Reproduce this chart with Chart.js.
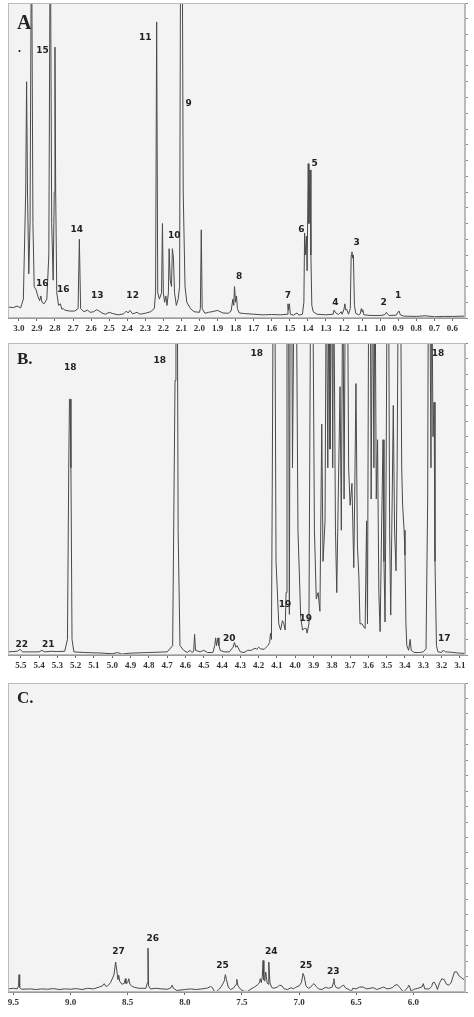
<!DOCTYPE html>
<html>
<head>
<meta charset="utf-8">
<script src="https://cdn.jsdelivr.net/npm/chart.js@4.4.1/dist/chart.umd.min.js"></script>
<style>
  body { margin: 0; background: #fff; }
  .panel { position: absolute; left: 0; width: 474px; }
  .tag { position: absolute; font-family: "Liberation Serif", serif; font-weight: bold; color: #222; }
</style>
</head>
<body>
<div class="panel" style="top:0;height:340px"><canvas id="chartA"></canvas></div>
<div class="panel" style="top:340px;height:340px"><canvas id="chartB"></canvas></div>
<div class="panel" style="top:680px;height:337px"><canvas id="chartC"></canvas></div>
<div class="tag" style="left:17px;top:11px;font-size:20px">A</div>
<div class="tag" style="left:18px;top:41px;font-size:12px">.</div>
<div class="tag" style="left:17px;top:349px;font-size:17px">B.</div>
<div class="tag" style="left:17px;top:688px;font-size:17px">C.</div>
<script>
// spectrum A: 0.5 - 3.1 ppm
const shiftA = [3.06,3.03,3.01,2.99,2.975,2.962,2.957,2.952,2.945,2.938,2.930,2.922,2.915,2.905,2.895,2.885,2.878,2.872,2.86,2.845,2.834,2.826,2.818,2.81,2.804,2.800,2.796,2.79,2.78,2.77,2.762,2.755,2.745,2.72,2.69,2.672,2.665,2.658,2.64,2.62,2.605,2.585,2.57,2.56,2.54,2.52,2.50,2.48,2.45,2.42,2.405,2.395,2.385,2.37,2.345,2.33,2.30,2.27,2.25,2.243,2.237,2.231,2.222,2.21,2.205,2.200,2.193,2.186,2.18,2.172,2.168,2.162,2.155,2.150,2.144,2.138,2.128,2.118,2.11,2.104,2.096,2.09,2.08,2.07,2.05,2.03,2.00,1.995,1.990,1.985,1.97,1.95,1.93,1.90,1.87,1.84,1.825,1.815,1.81,1.806,1.800,1.795,1.79,1.78,1.75,1.70,1.65,1.60,1.55,1.515,1.51,1.507,1.502,1.497,1.48,1.46,1.45,1.43,1.422,1.418,1.414,1.408,1.404,1.398,1.394,1.388,1.383,1.378,1.37,1.35,1.30,1.26,1.255,1.245,1.23,1.215,1.21,1.20,1.195,1.19,1.185,1.175,1.165,1.160,1.156,1.152,1.148,1.142,1.135,1.12,1.11,1.104,1.10,1.096,1.09,1.05,1.00,0.975,0.965,0.958,0.95,0.91,0.90,0.895,0.888,0.87,0.80,0.75,0.70,0.65,0.60,0.53];
const intA = [3.5,3.3,3.8,3.2,6,40,75,40,14,30,130,30,10,9,7,5.5,7,5,4.5,6,20,130,30,12,40,86,40,8,4,4.5,2.8,3,2.5,2.2,2.2,3,25,3,2,2.5,1.8,2.0,2.6,2.4,1.6,1.2,1.8,1.4,1.0,1.3,2.2,1.6,2.4,1.3,1.8,1.2,1.5,2,3,8,94,8,6,8,30,8,5,7,4,8,22,12,10,22,19,8,4,6,10,130,130,40,10,5,3,2,1.8,3,28,3,1.5,1.8,2,2.4,1.6,1.5,2.2,6,4,10,5,7,3,1.6,1.4,1.2,1.0,1.1,1.0,1.2,4.5,2.5,4.5,1.2,0.9,1.6,0.9,1.2,5,27,20,26,15,49,30,47,20,4,2,1.2,1.0,1.2,2.5,1.6,1.1,2.0,1.2,2.8,4.5,2.5,2.8,1.2,3,20,21,19,20,4,1.5,1.0,1.3,3,2,2.6,1.0,0.8,0.8,1.0,1.8,1.2,0.8,0.9,2.0,2.2,1.0,0.6,0.5,0.7,0.4,0.5,0.5,0.6];
const ticksA = [3.0,2.9,2.8,2.7,2.6,2.5,2.4,2.3,2.2,2.1,2.0,1.9,1.8,1.7,1.6,1.5,1.4,1.3,1.2,1.1,1.0,0.9,0.8,0.7,0.6];
const peakTagsA = ['15','16','16','14','13','12','11','10','9','8','7','6','5','4','3','2','1'];
const peakTagShiftA = [2.869,2.87,2.754,2.68,2.566,2.37,2.30,2.14,2.06,1.78,1.51,1.436,1.362,1.248,1.13,0.98,0.90];
const peakTagIntA = [85,11,9,28,7,7,89,26,68,13,7,28,49,5,24,5,7];

// spectrum B: 3.1 - 5.6 ppm
const shiftB = [5.57,5.52,5.505,5.49,5.40,5.385,5.37,5.33,5.30,5.26,5.245,5.238,5.234,5.230,5.226,5.22,5.21,5.15,5.05,5.0,4.97,4.95,4.90,4.80,4.70,4.67,4.657,4.652,4.645,4.640,4.63,4.61,4.59,4.575,4.565,4.555,4.550,4.545,4.52,4.50,4.48,4.45,4.44,4.435,4.430,4.422,4.417,4.41,4.39,4.36,4.34,4.332,4.325,4.318,4.30,4.28,4.26,4.24,4.22,4.21,4.20,4.19,4.17,4.15,4.14,4.135,4.13,4.125,4.120,4.112,4.105,4.09,4.08,4.07,4.062,4.055,4.05,4.045,4.037,4.032,4.027,4.020,4.015,4.005,3.995,3.985,3.97,3.96,3.95,3.94,3.935,3.925,3.915,3.905,3.895,3.885,3.875,3.865,3.855,3.848,3.837,3.83,3.822,3.815,3.81,3.80,3.795,3.79,3.78,3.773,3.765,3.755,3.748,3.74,3.733,3.725,3.715,3.708,3.70,3.69,3.68,3.675,3.668,3.66,3.652,3.646,3.635,3.625,3.618,3.61,3.605,3.598,3.59,3.585,3.577,3.570,3.564,3.557,3.55,3.543,3.536,3.528,3.52,3.515,3.509,3.503,3.497,3.49,3.484,3.478,3.47,3.464,3.457,3.449,3.443,3.436,3.43,3.425,3.418,3.413,3.405,3.40,3.395,3.39,3.38,3.372,3.366,3.35,3.32,3.30,3.285,3.276,3.272,3.265,3.258,3.254,3.247,3.241,3.236,3.228,3.22,3.20,3.19,3.18,3.15,3.12,3.10,3.07];
const intB = [1.0,1.2,1.8,1.0,1.0,1.5,1.0,1.2,1.1,1.2,5,60,82,82,60,5,1.0,0.8,0.6,0.4,0.8,0.3,0.6,0.8,1.0,3,88,130,130,40,3,1.5,0.8,1.5,0.8,1.2,6.6,1.5,1.0,1.5,0.8,0.8,3,5.5,3,5.5,3,1.5,1.0,1.0,2.5,4,2.5,3,1.0,0.8,1.5,1.5,2.2,1.8,2.5,2,1.8,3,4,7,5,60,130,130,30,10,8,11,10,8,20,130,130,13,130,130,60,130,130,40,12,8,8.5,8.5,7,10,130,130,40,18,20,14,74,30,43,130,60,130,66,130,60,130,40,20,50,86,40,130,50,130,130,60,48,55,28,50,87,35,25,10,10,9,8.5,43,10,130,130,50,130,60,130,50,69,20,7.5,40,69,30,10.6,60,130,130,40,12.8,50,80,40,27,60,130,130,130,60,48,40,32,10,3,1.5,5,1.5,0.8,0.8,1.0,2,50,130,130,60,130,70,81,30,3,1,0.8,1.6,1.0,0.9,0.7,0.6,0.5];
const ticksB = [5.5,5.4,5.3,5.2,5.1,5.0,4.9,4.8,4.7,4.6,4.5,4.4,4.3,4.2,4.1,4.0,3.9,3.8,3.7,3.6,3.5,3.4,3.3,3.2,3.1];
const peakTagsB = ['18','18','18','18','19','19','20','22','21','17'];
const peakTagShiftB = [5.23,4.74,4.21,3.22,4.056,3.943,4.36,5.495,5.35,3.185];
const peakTagIntB = [92,94.5,96.6,96.6,16,11.7,5.3,3.2,3.2,5.3];

// spectrum C: 5.5 - 9.6 ppm
const shiftC = [9.547,9.50,9.465,9.455,9.450,9.445,9.43,9.35,9.30,9.25,9.20,9.15,9.10,9.05,9.00,8.95,8.90,8.85,8.80,8.75,8.72,8.705,8.695,8.68,8.65,8.62,8.605,8.595,8.585,8.578,8.57,8.55,8.53,8.52,8.515,8.50,8.49,8.48,8.46,8.44,8.40,8.34,8.327,8.322,8.317,8.30,8.25,8.20,8.15,8.12,8.11,8.10,8.07,8.0,7.95,7.90,7.85,7.80,7.775,7.76,7.735,7.71,7.68,7.655,7.645,7.635,7.62,7.60,7.575,7.55,7.545,7.535,7.51,7.48,7.45,7.42,7.39,7.36,7.345,7.34,7.33,7.322,7.315,7.308,7.30,7.292,7.286,7.28,7.27,7.265,7.255,7.24,7.22,7.19,7.17,7.15,7.13,7.10,7.07,7.05,7.03,7.0,6.98,6.965,6.955,6.94,6.92,6.90,6.88,6.87,6.85,6.83,6.80,6.77,6.74,6.71,6.70,6.695,6.69,6.675,6.65,6.63,6.61,6.59,6.56,6.545,6.53,6.50,6.47,6.44,6.41,6.38,6.35,6.32,6.29,6.26,6.23,6.20,6.18,6.16,6.14,6.12,6.10,6.085,6.07,6.05,6.04,6.03,6.02,6.00,5.98,5.96,5.925,5.913,5.90,5.86,5.84,5.83,5.817,5.80,5.79,5.77,5.75,5.73,5.71,5.69,5.67,5.64,5.62,5.60,5.575,5.548];
const intC = [1.0,1.2,1.0,2,5.6,1.5,0.9,1.0,0.8,1.0,0.9,1.1,0.8,1.0,0.9,1.1,0.8,1.2,1.0,1.6,2.0,2.7,2.0,1.8,3.0,5.5,9.7,7,4,5.4,3.5,2.5,2.8,4.3,2.8,3.0,4.3,2.5,1.8,1.5,1.2,1.2,3,14.2,2,1.0,1.2,1.0,0.9,1.4,2.2,1.2,0.5,0.8,1.0,0.8,1.0,1.3,1.8,1.5,-0.2,0.5,1.8,3.5,5.6,4,1.6,0.8,1.2,2.5,4.1,2,0.8,0.2,0.2,1.0,1.6,2.4,3.2,4.3,3,5,10.2,4,3.5,6.5,5,3,2.5,9.7,3,1.5,1.2,1.6,2.2,2.0,1.0,0.8,1.4,1.0,1.5,2,3,6,5,2,1.2,1.5,2.4,2.7,1.8,1.0,0.8,1.5,1.2,1.6,3,4.3,2.5,1.4,1.2,1.8,2.2,1.2,0.8,0.0,1.2,1.0,1.6,1.6,1.0,1.2,1.4,0.8,1.2,1.6,1.0,1.2,1.5,2.2,2.4,1.5,0.6,0.0,0.6,1.4,2.2,1.5,0.2,0.8,1.0,1.2,1.6,2.7,1.0,1.0,1.8,3.0,3.2,2.0,0.8,3.0,4.3,4.0,2.5,2.2,3.0,6.5,6.5,5.2,4.5,3.8];
const ticksC = [9.5,9.0,8.5,8.0,7.5,7.0,6.5,6.0];
const peakTagsC = ['27','26','25','24','25','23'];
const peakTagShiftC = [8.58,8.28,7.67,7.243,6.94,6.70];
const peakTagIntC = [13,17.4,8.6,13,8.6,6.7];

const tagPlugin = {
  id: 'tags',
  beforeDraw(chart) {
    const a = chart.chartArea, ctx = chart.ctx;
    ctx.save();
    ctx.fillStyle = '#f3f3f3';
    ctx.fillRect(a.left, a.top, a.right - a.left, a.bottom - a.top);
    ctx.restore();
  },
  afterDatasetsDraw(chart, args, opts) {
    const a = chart.chartArea, ctx = chart.ctx;
    ctx.save();
    ctx.strokeStyle = '#bbb';
    ctx.lineWidth = 1;
    ctx.strokeRect(a.left + 0.5, a.top + 0.5, a.right - a.left - 1, a.bottom - a.top - 1);
    ctx.fillStyle = '#222';
    ctx.font = 'bold 9px "DejaVu Sans", sans-serif';
    ctx.textAlign = 'center';
    ctx.textBaseline = 'middle';
    opts.tags.forEach((t, i) => {
      ctx.fillText(t, chart.scales.x.getPixelForValue(opts.sx[i]), chart.scales.y.getPixelForValue(opts.sy[i]));
    });
    ctx.restore();
  }
};

function makeChart(id, shifts, ints, lo, hi, tickVals, axisH, tags, sx, sy) {
  new Chart(document.getElementById(id), {
    type: 'line',
    data: {
      datasets: [{
        data: shifts.map((s, i) => ({ x: s, y: ints[i] })),
        borderColor: '#4a4a4a',
        borderWidth: 1,
        pointRadius: 0,
        tension: 0,
        fill: false
      }]
    },
    options: {
      responsive: true,
      maintainAspectRatio: false,
      animation: false,
      layout: { padding: { left: 8, right: 5, top: 3 } },
      plugins: { legend: { display: false }, tooltip: { enabled: false },
        tags: { tags: tags, sx: sx, sy: sy } },
      scales: {
        x: {
          type: 'linear', reverse: true, min: lo, max: hi,
          ticks: { autoSkip: false, color: '#333', padding: 2, maxRotation: 0,
            font: { family: 'Liberation Serif', weight: 'bold', size: 9 },
            callback: v => v.toFixed(1) },
          afterBuildTicks: ax => { ax.ticks = tickVals.map(v => ({ value: v })); },
          afterFit: ax => { ax.height = axisH; },
          grid: { drawOnChartArea: false, tickLength: 3, color: '#666' },
          border: { color: '#999' }
        },
        y: {
          position: 'right', min: 0, max: 100,
          ticks: { display: false, stepSize: 5 },
          afterFit: ax => { ax.width = 4; },
          grid: { drawOnChartArea: false, tickLength: 3, color: '#888' },
          border: { color: '#bbb' }
        }
      }
    },
    plugins: [tagPlugin]
  });
}

makeChart('chartA', shiftA, intA, 0.53, 3.06, ticksA, 22, peakTagsA, peakTagShiftA, peakTagIntA);
makeChart('chartB', shiftB, intB, 3.072, 5.57, ticksB, 25, peakTagsB, peakTagShiftB, peakTagIntB);
makeChart('chartC', shiftC, intC, 5.548, 9.547, ticksC, 25, peakTagsC, peakTagShiftC, peakTagIntC);
</script>
</body>
</html>
